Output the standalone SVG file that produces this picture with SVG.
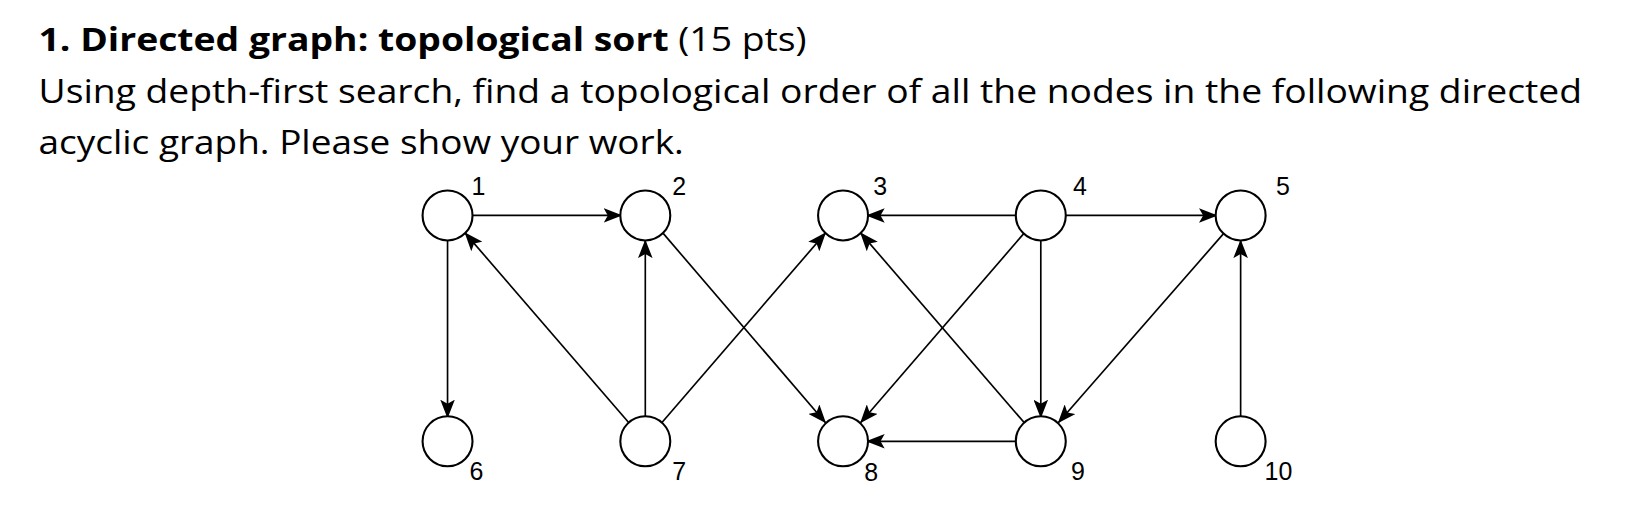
<svg xmlns="http://www.w3.org/2000/svg" width="1632" height="517" viewBox="0 0 1632 517">
<style>
.t{font-family:"Open Sans","Liberation Sans",sans-serif;font-size:31px;fill:#000}
.n circle{fill:#fff;stroke:#000;stroke-width:2}
.n text{font-family:"Liberation Sans",Arial,sans-serif;font-size:24px;fill:#000}
#edges line{stroke:#000;stroke-width:1.6;marker-end:url(#a)}
</style>
<defs><marker id="a" markerWidth="18" markerHeight="14" refX="17" refY="7" orient="auto" markerUnits="userSpaceOnUse"><path d="M0,0 L18,7 L0,14 L4,7 Z" fill="#000"/></marker></defs>
<rect width="1632" height="517" fill="#fff"/>
<g transform="scale(1.0408)">
<text class="t" x="37" y="49" textLength="738" lengthAdjust="spacingAndGlyphs"><tspan font-weight="bold">1.    Directed graph: topological sort</tspan> (15 pts)</text>
<text class="t" x="37" y="99" textLength="1483" lengthAdjust="spacingAndGlyphs">Using depth-first search, find a topological order of all the nodes in the following directed</text>
<text class="t" x="37" y="148" textLength="620" lengthAdjust="spacingAndGlyphs">acyclic graph. Please show your work.</text>
<g id="edges">
<line x1="454" y1="207" x2="597" y2="207"/>
<line x1="430" y1="231" x2="430" y2="401"/>
<line x1="604" y1="406" x2="447" y2="224"/>
<line x1="620" y1="400" x2="620" y2="231"/>
<line x1="636" y1="406" x2="793" y2="224"/>
<line x1="637" y1="224" x2="793" y2="406"/>
<line x1="976" y1="207" x2="833" y2="207"/>
<line x1="1024" y1="207" x2="1169" y2="207"/>
<line x1="984" y1="224" x2="827" y2="406"/>
<line x1="1000" y1="231" x2="1000" y2="401"/>
<line x1="984" y1="406" x2="827" y2="224"/>
<line x1="976" y1="424" x2="833" y2="424"/>
<line x1="1176" y1="224" x2="1017" y2="406"/>
<line x1="1192" y1="400" x2="1192" y2="231"/>
</g>
<g id="n1" class="n"><circle cx="430" cy="207" r="24"/><text x="453" y="187">1</text></g>
<g id="n2" class="n"><circle cx="620" cy="207" r="24"/><text x="646" y="187">2</text></g>
<g id="n3" class="n"><circle cx="810" cy="207" r="24"/><text x="839" y="187">3</text></g>
<g id="n4" class="n"><circle cx="1000" cy="207" r="24"/><text x="1031" y="187">4</text></g>
<g id="n5" class="n"><circle cx="1192" cy="207" r="24"/><text x="1226" y="187">5</text></g>
<g id="n6" class="n"><circle cx="430" cy="424" r="24"/><text x="451" y="461">6</text></g>
<g id="n7" class="n"><circle cx="620" cy="424" r="24"/><text x="646" y="461">7</text></g>
<g id="n8" class="n"><circle cx="810" cy="424" r="24"/><text x="807" y="462" dx="30" text-anchor="middle">8</text></g>
<g id="n9" class="n"><circle cx="1000" cy="424" r="24"/><text x="1029" y="461">9</text></g>
<g id="n10" class="n"><circle cx="1192" cy="424" r="24"/><text x="1215" y="461">10</text></g>
</g>
</svg>
